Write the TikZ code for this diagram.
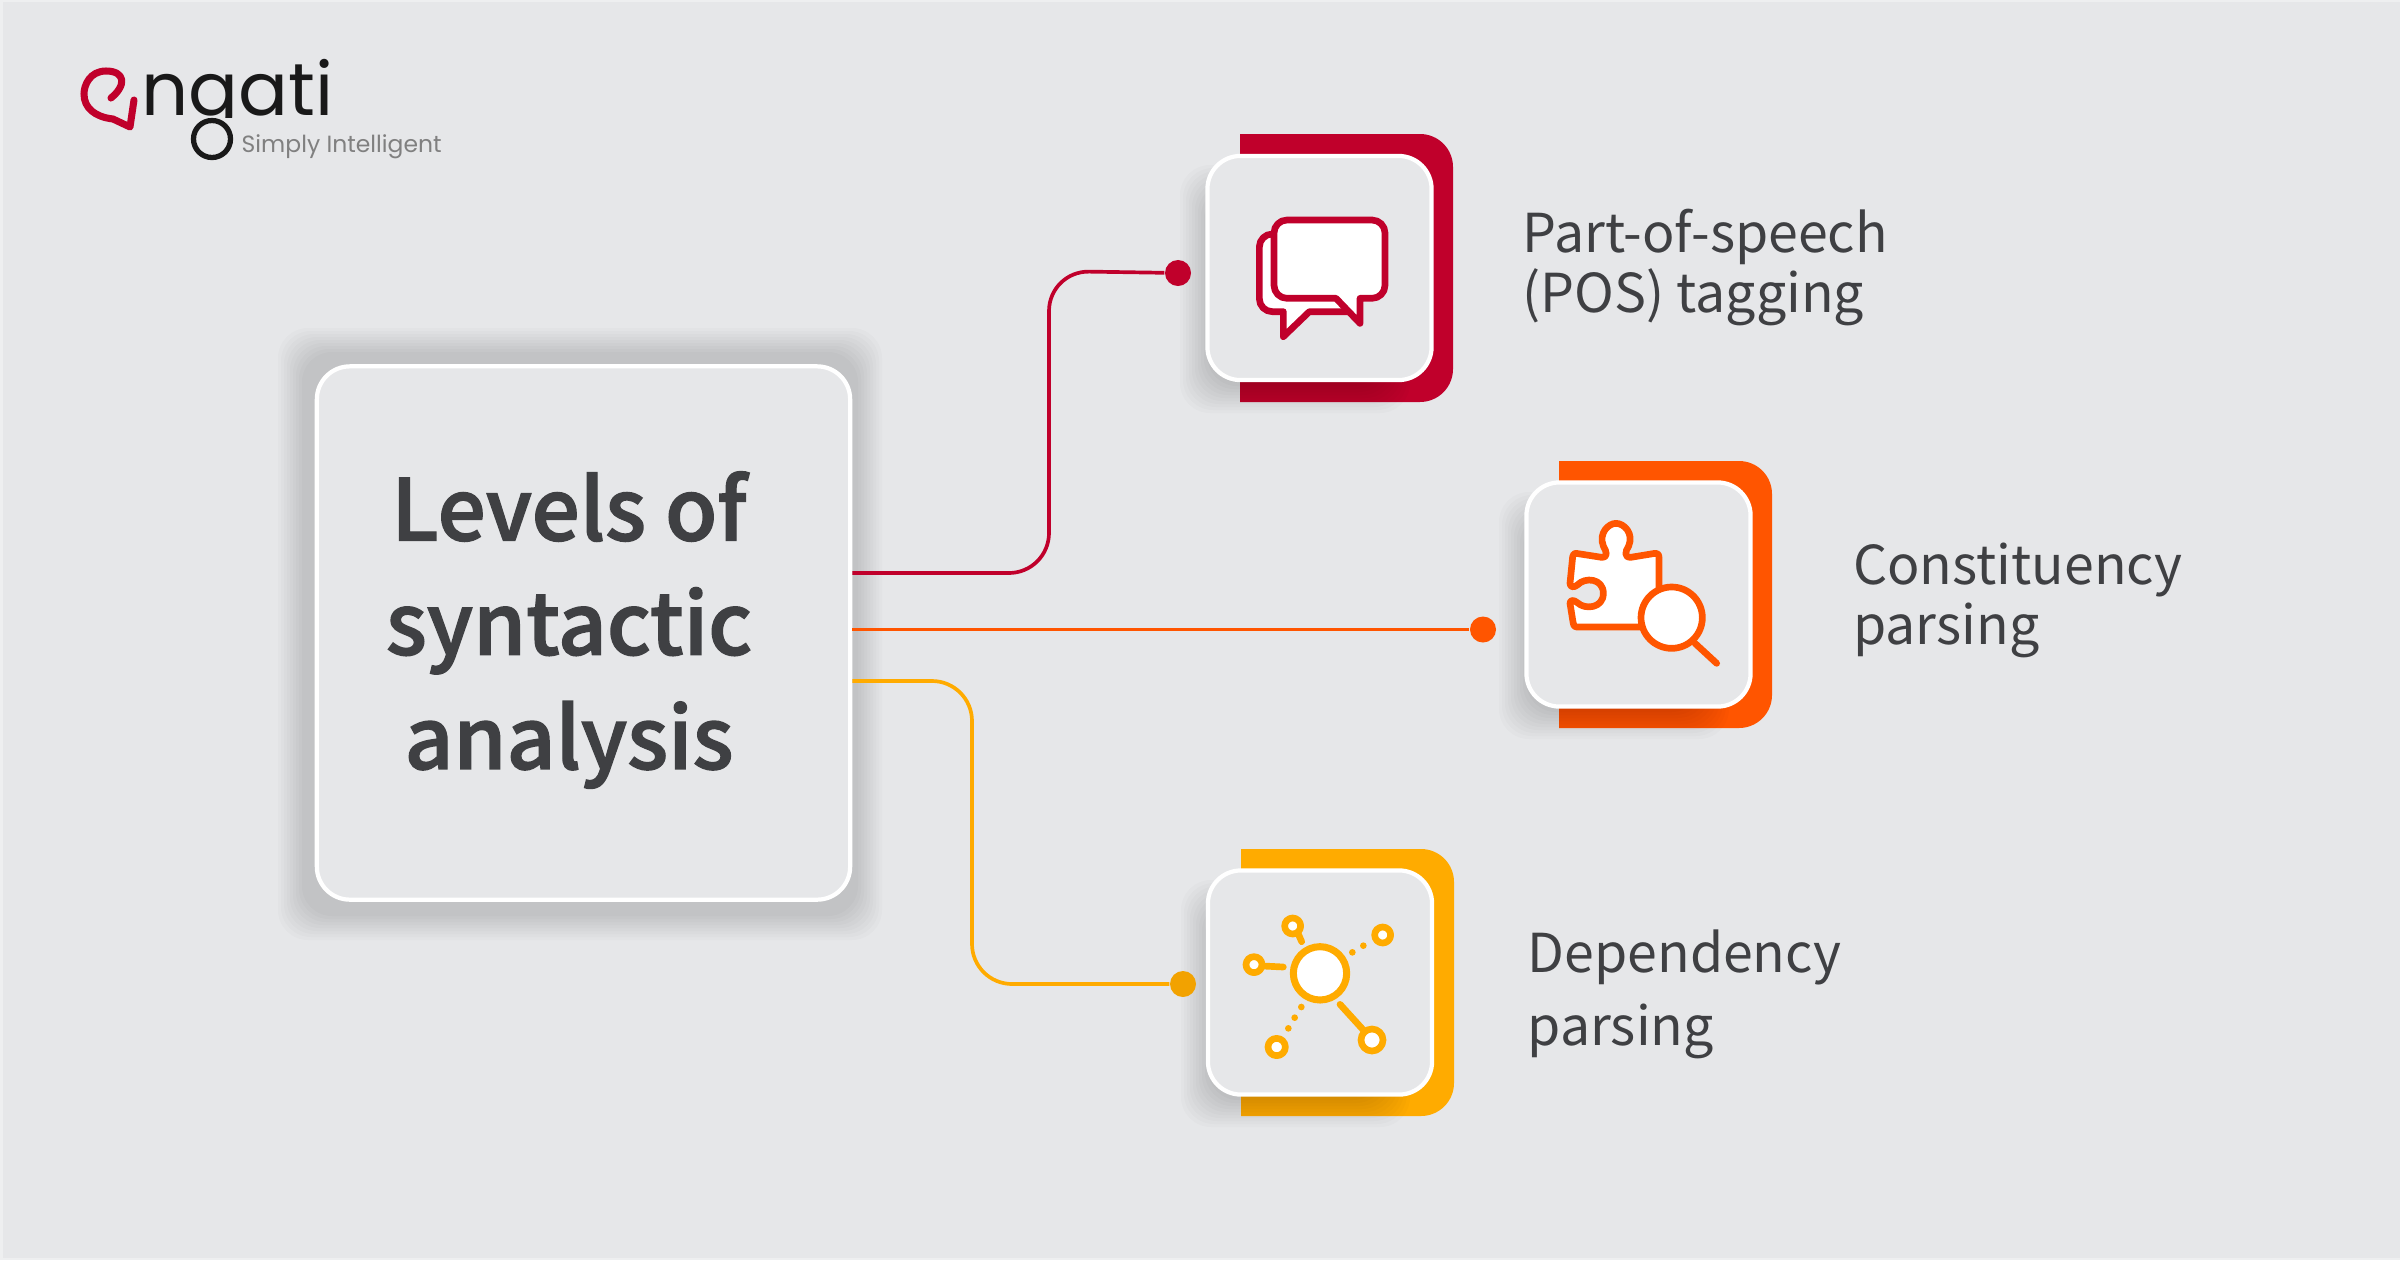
\documentclass[tikz,border=0pt]{standalone}
\usepackage{fontspec}
\setmainfont{Noto Sans CJK SC}
\newfontfamily\headfont[RawFeature={embolden=1.6}]{Noto Sans CJK SC Medium}
\newfontfamily\logofont{Poppins}
\usetikzlibrary{positioning}

\definecolor{pagegrey}{HTML}{E6E7E9}
\definecolor{edgegrey}{HTML}{EEEFF0}
\definecolor{textgrey}{HTML}{3F4043}
\definecolor{tagred}{HTML}{C0002B}
\definecolor{parseorange}{HTML}{FF5500}
\definecolor{depyellow}{HTML}{FFAB00}

\tikzset{
	card/.style={rectangle, rounded corners=3.3mm, draw=white, line width=1.2pt, fill=pagegrey, minimum width=2.24cm, minimum height=2.24cm, inner sep=0pt},
	mainbox/.style={card, minimum width=5.33cm, minimum height=5.33cm},
	enddot/.style={circle, inner sep=0pt, minimum size=2.6mm},
	label/.style={anchor=base west, align=left, inner sep=0pt, text=textgrey, font=\fontsize{15.25pt}{17pt}\selectfont},
	link/.style={line width=1.05pt, rounded corners=4mm},
	icon/.style={line width=1.9pt, fill=white, line join=round, line cap=round},
	bubble/.style={rounded corners=1.3mm},
}

% soft shadow: #1 left, #2 top, #3 right, #4 bottom, #5 strength, #6 spread
\newcommand{\softshadow}[6]{
	\foreach \grow in {#6}
		\fill[black, fill opacity=#5, rounded corners=3mm] (#1-\grow,#2-\grow) rectangle (#3+\grow,#4+\grow);
}

% coloured plate behind a card
\newcommand{\plate}[5]{
	\fill[#5] (#1,#2) -- (#3-33,#2) arc (-90:0:33) -- (#3,#4-33) arc (0:90:33) -- (#1,#4) -- cycle;
}

\begin{document}
\begin{tikzpicture}[x=0.01cm, y=-0.01cm]
\useasboundingbox (0,0) rectangle (2400,1260);
\fill[edgegrey] (0,0) rectangle (2400,1260);
\fill[pagegrey] (3,2) rectangle (2400,1258);

%logo
\draw[tagred, line width=2pt, line cap=round, line join=round] (111,98) .. controls (127,85) and (125,71) .. (106,71) .. controls (90,71) and (84,85) .. (84,94) .. controls (84,108) and (95,117) .. (113,119) -- (130,127) -- (134,100);
\node[anchor=base west, inner sep=0pt, font=\logofont\fontsize{21pt}{0pt}\selectfont, text=black!90] (logoname) at (141,115) {ngati};
\fill[pagegrey] (190,117.5) rectangle (240,140);
\draw[black!90, line width=1.5pt] (212,139) circle (18.5);
\node[anchor=base west, inner sep=0pt, font=\logofont\fontsize{6.67pt}{0pt}\selectfont, text=black!50] (logotag) at (241,152) {Simply Intelligent};

%shadow of the main box
\softshadow{290}{340}{870}{928}{0.015}{12,9,...,-12}
\node[mainbox] (levels) at (583.5,633) {};
\node[text=textgrey, align=center, inner sep=0pt, font=\headfont\fontsize{24.2pt}{32.5pt}\selectfont] (levelstext) at (569,630) {Levels of\\syntactic\\analysis};

%plates and their shadows
\plate{1240}{134}{1453}{402}{tagred}
\plate{1559}{461}{1772}{728}{parseorange}
\plate{1241}{849}{1454}{1116}{depyellow}
\softshadow{1195}{180}{1395}{398}{0.014}{15,12,...,-15}
\softshadow{1514}{507}{1714}{724}{0.014}{15,12,...,-15}
\softshadow{1196}{895}{1395}{1112}{0.014}{15,12,...,-15}

\node[card] (postag) at (1319.5,268) {};
\node[card] (constit) at (1638.5,594.5) {};
\node[card] (depend) at (1320,982.5) {};

\node[enddot, fill=tagred] (postagdot) at (1178,273) {};
\node[enddot, fill=parseorange] (constitdot) at (1483,629.5) {};
\node[enddot, fill=depyellow!95!black] (dependdot) at (1183,984) {};

\coordinate (levelsa) at (levels.east |- 0,573);
\coordinate (levelsb) at (levels.east |- constitdot);
\coordinate (levelsc) at (levels.east |- 0,681);
\draw[link, tagred] (levelsa) -- (1049,573) -- (1049,271) -- (postagdot);
\draw[line width=1.05pt, parseorange] (levelsb) -- (constitdot);
\draw[link, depyellow] (levelsc) -- (972,681) -- (972,984) -- (dependdot);

\node[label] (postext) at (1522,312) {Part-of-speech\\(POS) tagging};
\node[label] (constittext) at (1852.5,644) {Constituency\\parsing};
\node[label] (dependtext) at (1527,1045) {Dependency\\[3.5pt]parsing};

%speech bubbles
\begin{scope}[icon, draw=tagred, shift={(1150,110)}, scale=1/3]
	\path[draw, fill, bubble] (372,372) -- (328,372) -- (328,605) [sharp corners] -- (400,605) -- (400,680) -- (478,605) -- (600,605) -- (600,372) -- cycle;
	\path[draw, fill, bubble] (372,450) -- (372,330) -- (705,330) -- (705,565) [sharp corners] -- (630,565) -- (630,640) -- (558,565) [bubble] -- (372,565) -- cycle;
\end{scope}

%puzzle piece and lens
\begin{scope}[icon, draw=parseorange, shift={(1470,440)}, scale=1/3]
	\path[draw, fill] (318,340) -- (395,352) .. controls (415,352) and (410,335) .. (400,318) .. controls (385,280) and (415,250) .. (438,250) .. controls (462,250) and (492,280) .. (476,318) .. controls (465,335) and (462,352) .. (482,352) -- (555,340) .. controls (565,340) and (567,345) .. (567,355) -- (567,561) -- (320,561) .. controls (310,561) and (310,550) .. (308,540) -- (300,490) .. controls (300,480) and (310,478) .. (322,488) .. controls (345,510) and (400,505) .. (400,460) .. controls (400,415) and (345,410) .. (322,435) .. controls (310,445) and (300,440) .. (300,430) -- (308,350) .. controls (310,342) and (312,340) .. (318,340) -- cycle;
	\path[draw, fill] (605,533) circle (92);
	\draw (675,610) -- (740,670);
\end{scope}

%dependency graph
\begin{scope}[icon, draw=depyellow, shift={(1150,830)}, scale=1/3]
	\path[draw, fill, line width=2pt] (510,430) circle (80);
	\draw (444,310) -- (455,335);
	\draw (340,408) -- (400,411);
	\draw (570,523) -- (640,600);
	\path[draw, fill] (428,288) circle (24);
	\path[draw, fill] (312,404) circle (24);
	\path[draw, fill] (698,315) circle (24);
	\path[draw, fill] (380,651) circle (26);
	\path[draw, fill] (666,630) circle (33);
	\foreach \dotx/\doty in {640/347, 607/367, 415/595, 434/563, 454/531}
		\fill[depyellow] (\dotx,\doty) circle (10);
\end{scope}
\end{tikzpicture}
\end{document}
